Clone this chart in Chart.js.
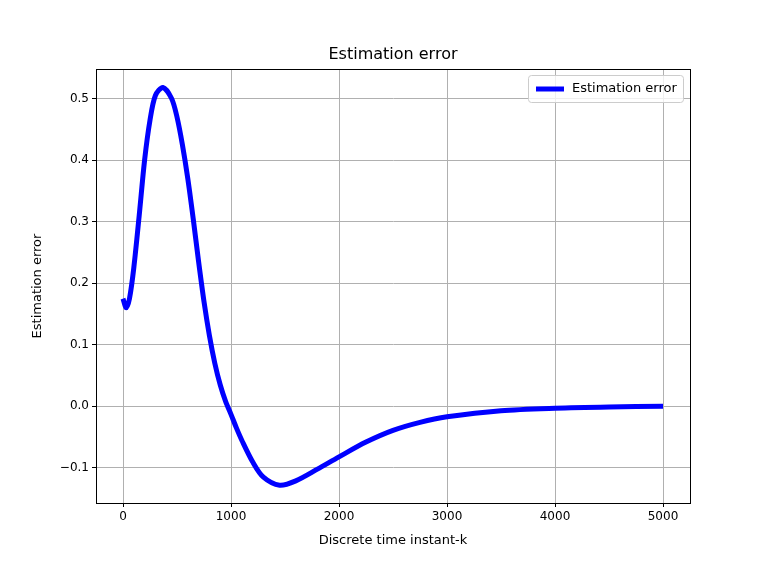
<!DOCTYPE html>
<html>
<head>
<meta charset="utf-8">
<script src="https://cdn.jsdelivr.net/npm/chart.js@4"></script>
<style>
  body { margin: 0; background: #fff; }
  #wrap { width: 768px; height: 576px; }
</style>
</head>
<body>
<div id="wrap"><canvas id="chartError"></canvas></div>
<script>
// values
const kValues = [0, 30, 60, 100, 150, 200, 250, 300, 370, 450, 500, 550, 600, 650, 700, 750, 800, 850, 900, 950, 1000, 1050, 1100, 1200, 1300, 1450, 1600, 1800, 2000, 2250, 2500, 2750, 3000, 3500, 4000, 4500, 5000];
const errValues = [0.175, 0.16, 0.175, 0.225, 0.31, 0.40, 0.465, 0.505, 0.518, 0.50, 0.47, 0.425, 0.37, 0.305, 0.235, 0.17, 0.115, 0.07, 0.035, 0.008, -0.013, -0.035, -0.055, -0.09, -0.115, -0.128, -0.121, -0.102, -0.082, -0.058, -0.039, -0.026, -0.017, -0.007, -0.003, -0.001, 0];
const xTicks = [0, 1000, 2000, 3000, 4000, 5000];
const yTicks = [-0.1, 0, 0.1, 0.2, 0.3, 0.4, 0.5];

const font = 'DejaVu Sans';
const minus = (s) => s.replace('-', '\u2212');

// matplotlib-style frame, title and legend inside the axes
const decorations = {
  id: 'decorations',
  afterDraw(chart) {
    const ctx = chart.ctx;
    const a = chart.chartArea;
    ctx.save();
    ctx.strokeStyle = '#000';
    ctx.lineWidth = 1;
    ctx.strokeRect(Math.round(a.left) + 0.5, Math.round(a.top) + 0.5, Math.round(a.right - a.left), Math.round(a.bottom - a.top));

    ctx.fillStyle = '#000';
    ctx.font = '16px ' + font;
    ctx.textAlign = 'center';
    ctx.textBaseline = 'bottom';
    ctx.fillText('Estimation error', (a.left + a.right) / 2, a.top - 6);

    const bx = a.right - 162, by = a.top + 6, bw = 155, bh = 27;
    ctx.fillStyle = 'rgba(255,255,255,0.8)';
    ctx.strokeStyle = '#ccc';
    ctx.beginPath();
    ctx.roundRect(bx + 0.5, by + 0.5, bw, bh, 3);
    ctx.fill();
    ctx.stroke();
    ctx.strokeStyle = '#0000ff';
    ctx.lineWidth = 5;
    ctx.beginPath();
    ctx.moveTo(bx + 8, by + 14);
    ctx.lineTo(bx + 36, by + 14);
    ctx.stroke();
    ctx.fillStyle = '#000';
    ctx.font = '13px ' + font;
    ctx.textAlign = 'left';
    ctx.textBaseline = 'middle';
    ctx.fillText('Estimation error', bx + 44, by + 14);
    ctx.restore();
  },
};

const keepTicks = (list) => (scale) => {
  scale.ticks = list.map((v) => ({ value: v }));
};

const chartErrorConfig = {
  type: 'scatter',
  plugins: [decorations],
  data: {
    datasets: [
      {
        label: 'Estimation error',
        data: kValues.map((k, i) => ({ x: k, y: errValues[i] })),
        showLine: true,
        borderColor: '#0000ff',
        borderWidth: 5,
        pointRadius: 0,
        tension: 0.3,
      },
    ],
  },
  options: {
    responsive: false,
    animation: false,
    devicePixelRatio: 1,
    layout: { padding: { top: 69, right: 78, left: 30, bottom: 28 } },
    plugins: { legend: { display: false }, tooltip: { enabled: false } },
    scales: {
      x: {
        type: 'linear',
        min: -250,
        max: 5250,
        afterBuildTicks: keepTicks(xTicks),
        afterFit: (s) => { s.height = 45; },
        grid: { color: '#b0b0b0', tickColor: '#000', tickLength: 4 },
        border: { color: '#000' },
        ticks: { color: '#000', font: { family: font, size: 12 }, callback: (v) => String(v) },
        title: { display: true, text: 'Discrete time instant-k', color: '#000', font: { family: font, size: 13 }, padding: 0 },
      },
      y: {
        min: -0.157,
        max: 0.548,
        afterBuildTicks: keepTicks(yTicks),
        afterFit: (s) => { s.width = 66; },
        grid: { color: '#b0b0b0', tickColor: '#000', tickLength: 4 },
        border: { color: '#000' },
        ticks: { color: '#000', font: { family: font, size: 12 }, callback: (v) => minus(v.toFixed(1)) },
        title: { display: true, text: 'Estimation error', color: '#000', font: { family: font, size: 13 }, padding: 0 },
      },
    },
  },
};

const canvas = document.getElementById('chartError');
canvas.width = 768;
canvas.height = 576;
const chartError = new Chart(canvas, chartErrorConfig);
</script>
</body>
</html>
